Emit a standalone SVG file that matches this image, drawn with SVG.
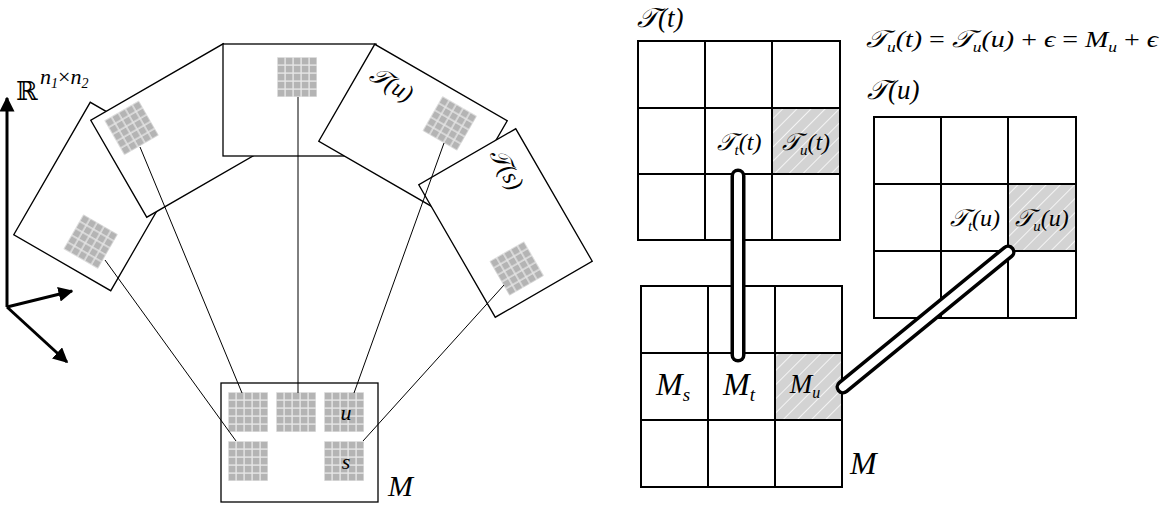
<svg xmlns="http://www.w3.org/2000/svg" width="1161" height="505" viewBox="0 0 1161 505">
<style>
.frame{fill:#fff;stroke:#000;stroke-width:1.3}
.conn{stroke:#000;stroke-width:1;fill:none}
.grid{fill:none;stroke:#000;stroke-width:2}
.m{font-family:"Liberation Serif","DejaVu Serif",serif;font-style:italic;fill:#000}
.sym{font-family:"DejaVu Serif","Liberation Serif",serif;fill:#000}
.tube-o{stroke:#000;stroke-width:15;stroke-linecap:round;fill:none}
.tube-i{stroke:#fff;stroke-width:8;stroke-linecap:round;fill:none}
.hatch{fill:url(#hp)}
</style>
<defs>
<pattern id="pp" width="8" height="8" patternUnits="userSpaceOnUse" x="-20" y="-20">
<rect width="8" height="8" fill="#e6e6e6"/><rect x="0.8" y="0.8" width="6.6" height="6.6" fill="#b4b4b4"/>
</pattern>
<g id="patch"><rect x="-20" y="-20" width="40" height="40" fill="url(#pp)"/></g>
<pattern id="hp" width="10" height="10" patternUnits="userSpaceOnUse" patternTransform="rotate(45)">
<rect width="10" height="10" fill="#d3d3d3"/><line x1="0" y1="0" x2="0" y2="10" stroke="#fff" stroke-width="1.5"/>
</pattern>
<marker id="ar" viewBox="0 0 10 10" refX="9" refY="5" markerWidth="5" markerHeight="5" orient="auto"><path d="M0,0 L10,5 L0,10 z" fill="#000"/></marker>
</defs>

<g id="axes">
<line x1="7" y1="307" x2="7" y2="98" stroke="#000" stroke-width="3" marker-end="url(#ar)"/>
<line x1="7" y1="307" x2="72" y2="291" stroke="#000" stroke-width="3" marker-end="url(#ar)"/>
<line x1="7" y1="307" x2="67" y2="362" stroke="#000" stroke-width="3" marker-end="url(#ar)"/>
<text class="sym" x="16" y="100" font-size="26">ℝ</text>
<text class="m" x="40" y="84" font-size="22">n<tspan font-size="14" dy="4">1</tspan><tspan dy="-4" font-style="normal">×</tspan>n<tspan font-size="14" dy="4">2</tspan></text>
</g>

<g id="frame-l2" transform="translate(100.5,196.5) rotate(-60)">
<rect class="frame" x="-76.5" y="-56" width="153" height="112"/>
<use href="#patch" transform="translate(-44,14)"/>
</g>
<g id="frame-l1" transform="translate(185,130.5) rotate(-30)">
<rect class="frame" x="-76.5" y="-56" width="153" height="112"/>
<use href="#patch" transform="translate(-45,-29)"/>
</g>
<g id="frame-c" transform="translate(299.5,100)">
<rect class="frame" x="-76.5" y="-56" width="153" height="112"/>
<use href="#patch" transform="translate(-2.5,-23)"/>
</g>
<g id="frame-u" transform="translate(413,131) rotate(30)">
<rect class="frame" x="-76.5" y="-56" width="153" height="112"/>
<use href="#patch" transform="translate(28,-25)"/>
<text class="m" x="-42" y="-22" font-size="24" text-anchor="middle">𝒯(u)</text>
</g>
<g id="frame-s" transform="translate(505.5,223) rotate(60)">
<rect class="frame" x="-76.5" y="-56" width="153" height="112"/>
<use href="#patch" transform="translate(45,13)"/>
<text class="m" x="-46" y="-20" font-size="24" text-anchor="middle">𝒯(s)</text>
</g>

<g id="M">
<rect class="frame" x="221" y="383" width="157" height="119"/>
<use href="#patch" transform="translate(248,412)"/>
<use href="#patch" transform="translate(296,412)"/>
<use href="#patch" transform="translate(344,412)"/>
<use href="#patch" transform="translate(248,461)"/>
<use href="#patch" transform="translate(344,461)"/>
<text class="m" x="346" y="420" font-size="22" text-anchor="middle">u</text>
<text class="m" x="346" y="469" font-size="22" text-anchor="middle">s</text>
<text class="m" x="388" y="496" font-size="30">M</text>
</g>

<g id="connectors">
<line class="conn" x1="140" y1="147" x2="242" y2="393"/>
<line class="conn" x1="105" y1="260" x2="236" y2="441"/>
<line class="conn" x1="298" y1="97" x2="298" y2="393"/>
<line class="conn" x1="444" y1="143" x2="354" y2="393"/>
<line class="conn" x1="504" y1="285" x2="363" y2="441"/>
</g>

<g id="Tt">
<text class="m" x="637" y="27" font-size="27">𝒯(t)</text>
<rect class="hatch" x="773" y="108" width="66" height="66"/>
<path class="grid" d="M638,41H840V240H638Z M705,41V240 M772,41V240 M638,108H840 M638,174H840"/>
<text class="m" x="739" y="150" font-size="24" text-anchor="middle">𝒯<tspan font-size="15" dy="5">t</tspan><tspan dy="-5">(t)</tspan></text>
<text class="m" x="806" y="150" font-size="24" text-anchor="middle">𝒯<tspan font-size="15" dy="5">u</tspan><tspan dy="-5">(t)</tspan></text>
</g>

<g id="formula">
<text class="m" x="866" y="47" font-size="24" textLength="292" lengthAdjust="spacingAndGlyphs">𝒯<tspan font-size="15" dy="5">u</tspan><tspan dy="-5">(t) </tspan><tspan font-style="normal">=</tspan> 𝒯<tspan font-size="15" dy="5">u</tspan><tspan dy="-5">(u) </tspan><tspan font-style="normal">+</tspan> ϵ <tspan font-style="normal">=</tspan> M<tspan font-size="15" dy="5">u</tspan><tspan dy="-5"> </tspan><tspan font-style="normal">+</tspan> ϵ</text>
</g>

<g id="Tu">
<text class="m" x="867" y="99" font-size="27">𝒯(u)</text>
<rect class="hatch" x="1009" y="185" width="66" height="66"/>
<path class="grid" d="M874,117H1076V318H874Z M941,117V318 M1008,117V318 M874,184H1076 M874,251H1076"/>
<text class="m" x="975" y="226" font-size="24" text-anchor="middle">𝒯<tspan font-size="15" dy="5">t</tspan><tspan dy="-5">(u)</tspan></text>
<text class="m" x="1042" y="226" font-size="24" text-anchor="middle">𝒯<tspan font-size="15" dy="5">u</tspan><tspan dy="-5">(u)</tspan></text>
</g>

<g id="Mgrid">
<rect class="hatch" x="776" y="354" width="65" height="65"/>
<path class="grid" d="M641,286H842V487H641Z M708,286V487 M775,286V487 M641,353H842 M641,420H842"/>
<text class="m" x="673" y="395" font-size="32" text-anchor="middle">M<tspan font-size="19" dy="6">s</tspan></text>
<text class="m" x="739" y="395" font-size="32" text-anchor="middle">M<tspan font-size="19" dy="6">t</tspan></text>
<text class="m" x="805" y="393" font-size="27" text-anchor="middle">M<tspan font-size="16" dy="5">u</tspan></text>
<text class="m" x="850" y="474" font-size="32">M</text>
</g>

<g id="tubes">
<line class="tube-o" x1="738" y1="176" x2="738" y2="355"/>
<line class="tube-i" x1="738" y1="176" x2="738" y2="355"/>
<line class="tube-o" x1="843" y1="387" x2="1008" y2="252"/>
<line class="tube-i" x1="843" y1="387" x2="1008" y2="252"/>
</g>
</svg>
